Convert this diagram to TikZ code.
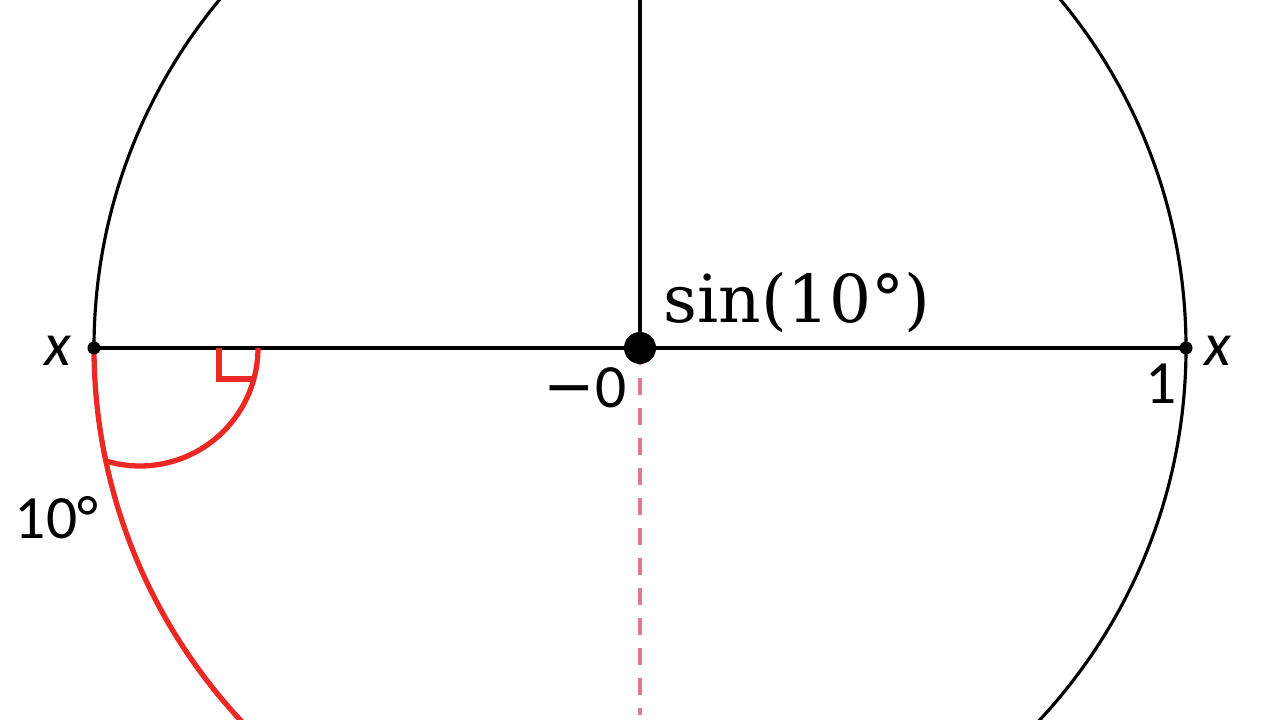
\documentclass[tikz,border=0pt]{standalone}
\usepackage{fontspec}
\usepackage{xcolor}
\usepackage{tikz}
\usetikzlibrary{positioning, calc}
\newfontfamily\lblfont{Carlito}
\newfontfamily\sinfont{DejaVu Serif}
\newfontfamily\minusfont{DejaVu Sans}
\definecolor{angred}{RGB}{236,40,36}
\definecolor{dashpink}{RGB}{222,122,142}

\begin{document}
\begin{tikzpicture}[
    lbl/.style={inner sep=0pt, font=\lblfont\fontsize{17.5}{20}\selectfont},
    blk/.style={black, line width=0.9pt},
    redline/.style={angred, line width=1.5pt}
  ]
        \useasboundingbox (-6.40,-3.72) rectangle (6.40,3.48);
        \clip (-6.40,-3.72) rectangle (6.40,3.48);

        \coordinate (O) at (0,0);
        \coordinate (A) at (-5.46,0);
        \coordinate (B) at (5.46,0);
        \coordinate (T) at (0,3.48);
        \coordinate (D) at (0,-3.67);

        % unit circle and axes
        \draw[blk] (O) circle (5.46);
        \draw[blk] (A) -- (B);
        \draw[blk] (O) -- (T);
        \draw[dashpink, line width=1.1pt, dash pattern=on 0.17cm off 0.13cm] (O) -- (D);

        % red arc and angle mark
        \draw[redline] (A) arc[start angle=180, end angle=235, radius=5.46];
        \draw[redline] (-3.82,0) arc[start angle=0, end angle=-107, radius=1.18];
        \draw[redline] (-4.21,0) -- ++(0,-0.31) -- (-3.861,-0.31);

        % points
        \fill (A) circle (0.065);
        \fill (B) circle (0.065);
        \fill (O) circle (0.16);

        % labels
        \node[lbl] (xl) at (-5.82,-0.03) {\itshape x};
        \node[lbl] (xr) at (5.78,-0.03) {\itshape x};
        \node[lbl] (one) at (5.21,-0.36) {1};
        \node[lbl] (zero) at (-0.55,-0.40) {{\minusfont −}0};
        \node[lbl] (ang) at (-5.835,-1.70) {10°};
        \node[inner sep=0pt, anchor=base west, font=\sinfont\fontsize{18.8}{22}\selectfont] (sinlbl) at (0.23,0.25) {sin(10°)};
      \end{tikzpicture}
\end{document}
